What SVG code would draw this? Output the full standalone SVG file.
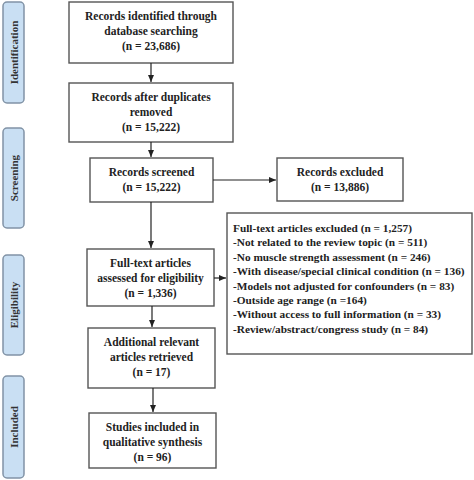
<svg xmlns="http://www.w3.org/2000/svg" width="474" height="480" viewBox="0 0 474 480">
<defs>
<marker id="ah" markerWidth="8" markerHeight="8" refX="7" refY="4" orient="auto" markerUnits="userSpaceOnUse">
<path d="M0,1 L7,4 L0,7 Z" fill="#222"/>
</marker>
<style>
.box{fill:#fff;stroke:#555;stroke-width:1.4}
.side{fill:#c9dff3;stroke:#8193a6;stroke-width:1.5}
.t{font-family:"Liberation Serif","Times New Roman",serif;font-weight:bold;font-size:11.5px;fill:#222;text-anchor:middle}
.l{font-family:"Liberation Serif","Times New Roman",serif;font-weight:bold;font-size:11.3px;fill:#222}
.s{font-family:"Liberation Serif","Times New Roman",serif;font-weight:bold;font-size:11px;fill:#333;text-anchor:middle}
.c{stroke:#222;stroke-width:1.2;fill:none;marker-end:url(#ah)}
</style>
</defs>
<rect width="474" height="480" fill="#fff"/>
<g id="side-identification"><rect class="side" x="3" y="2" width="21" height="101" rx="4"/><text class="s" transform="translate(17.5,52.5) rotate(-90)">Identification</text></g>
<g id="side-screening"><rect class="side" x="3" y="128" width="21" height="100" rx="4"/><text class="s" transform="translate(17.5,178) rotate(-90)">Screening</text></g>
<g id="side-eligibility"><rect class="side" x="3" y="255" width="21" height="100" rx="4"/><text class="s" transform="translate(17.5,305) rotate(-90)">Eligibility</text></g>
<g id="side-included"><rect class="side" x="3" y="376" width="21" height="102" rx="4"/><text class="s" transform="translate(17.5,427) rotate(-90)">Included</text></g>

<g id="n1"><rect class="box" x="69" y="2" width="164" height="61"/><text class="t" x="151" y="20">Records identified through</text><text class="t" x="151" y="35">database searching</text><text class="t" x="151" y="50">(n = 23,686)</text></g>
<g id="n2"><rect class="box" x="69" y="83" width="164" height="59"/><text class="t" x="151" y="101">Records after duplicates</text><text class="t" x="151" y="116">removed</text><text class="t" x="151" y="131">(n = 15,222)</text></g>
<g id="n3"><rect class="box" x="90" y="158" width="123" height="44"/><text class="t" x="151.5" y="176">Records screened</text><text class="t" x="151.5" y="191">(n = 15,222)</text></g>
<g id="n4"><rect class="box" x="277" y="158" width="126" height="43"/><text class="t" x="340" y="176">Records excluded</text><text class="t" x="340" y="191">(n = 13,886)</text></g>
<g id="n5"><rect class="box" x="87" y="249" width="127" height="57"/><text class="t" x="150.5" y="267">Full-text articles</text><text class="t" x="150.5" y="282">assessed for eligibility</text><text class="t" x="150.5" y="297">(n = 1,336)</text></g>
<g id="n6"><rect class="box" x="227" y="213" width="245" height="141"/>
<text class="l" x="233" y="232">Full-text articles excluded (n = 1,257)</text>
<text class="l" x="233" y="246.4">-Not related to the review topic (n = 511)</text>
<text class="l" x="233" y="260.8">-No muscle strength assessment (n = 246)</text>
<text class="l" x="233" y="275.2">-With disease/special clinical condition (n = 136)</text>
<text class="l" x="233" y="289.6">-Models not adjusted for confounders (n = 83)</text>
<text class="l" x="233" y="304">-Outside age range (n =164)</text>
<text class="l" x="233" y="318.4">-Without access to full information (n = 33)</text>
<text class="l" x="233" y="332.8">-Review/abstract/congress study (n = 84)</text></g>
<g id="n7"><rect class="box" x="88" y="328" width="127" height="60"/><text class="t" x="151.5" y="346">Additional relevant</text><text class="t" x="151.5" y="361">articles retrieved</text><text class="t" x="151.5" y="376">(n = 17)</text></g>
<g id="n8"><rect class="box" x="89" y="413" width="127" height="55"/><text class="t" x="152.5" y="431">Studies included in</text><text class="t" x="152.5" y="446">qualitative synthesis</text><text class="t" x="152.5" y="461">(n = 96)</text></g>

<g id="connectors">
<line class="c" x1="151" y1="63" x2="151" y2="82"/>
<line class="c" x1="151" y1="142" x2="151" y2="157"/>
<line class="c" x1="151" y1="202" x2="151" y2="248"/>
<line class="c" x1="213" y1="180" x2="276" y2="180"/>
<line class="c" x1="214" y1="278" x2="226" y2="278"/>
<line class="c" x1="152" y1="306" x2="152" y2="327"/>
<line class="c" x1="153" y1="388" x2="153" y2="412"/>
</g>
</svg>
